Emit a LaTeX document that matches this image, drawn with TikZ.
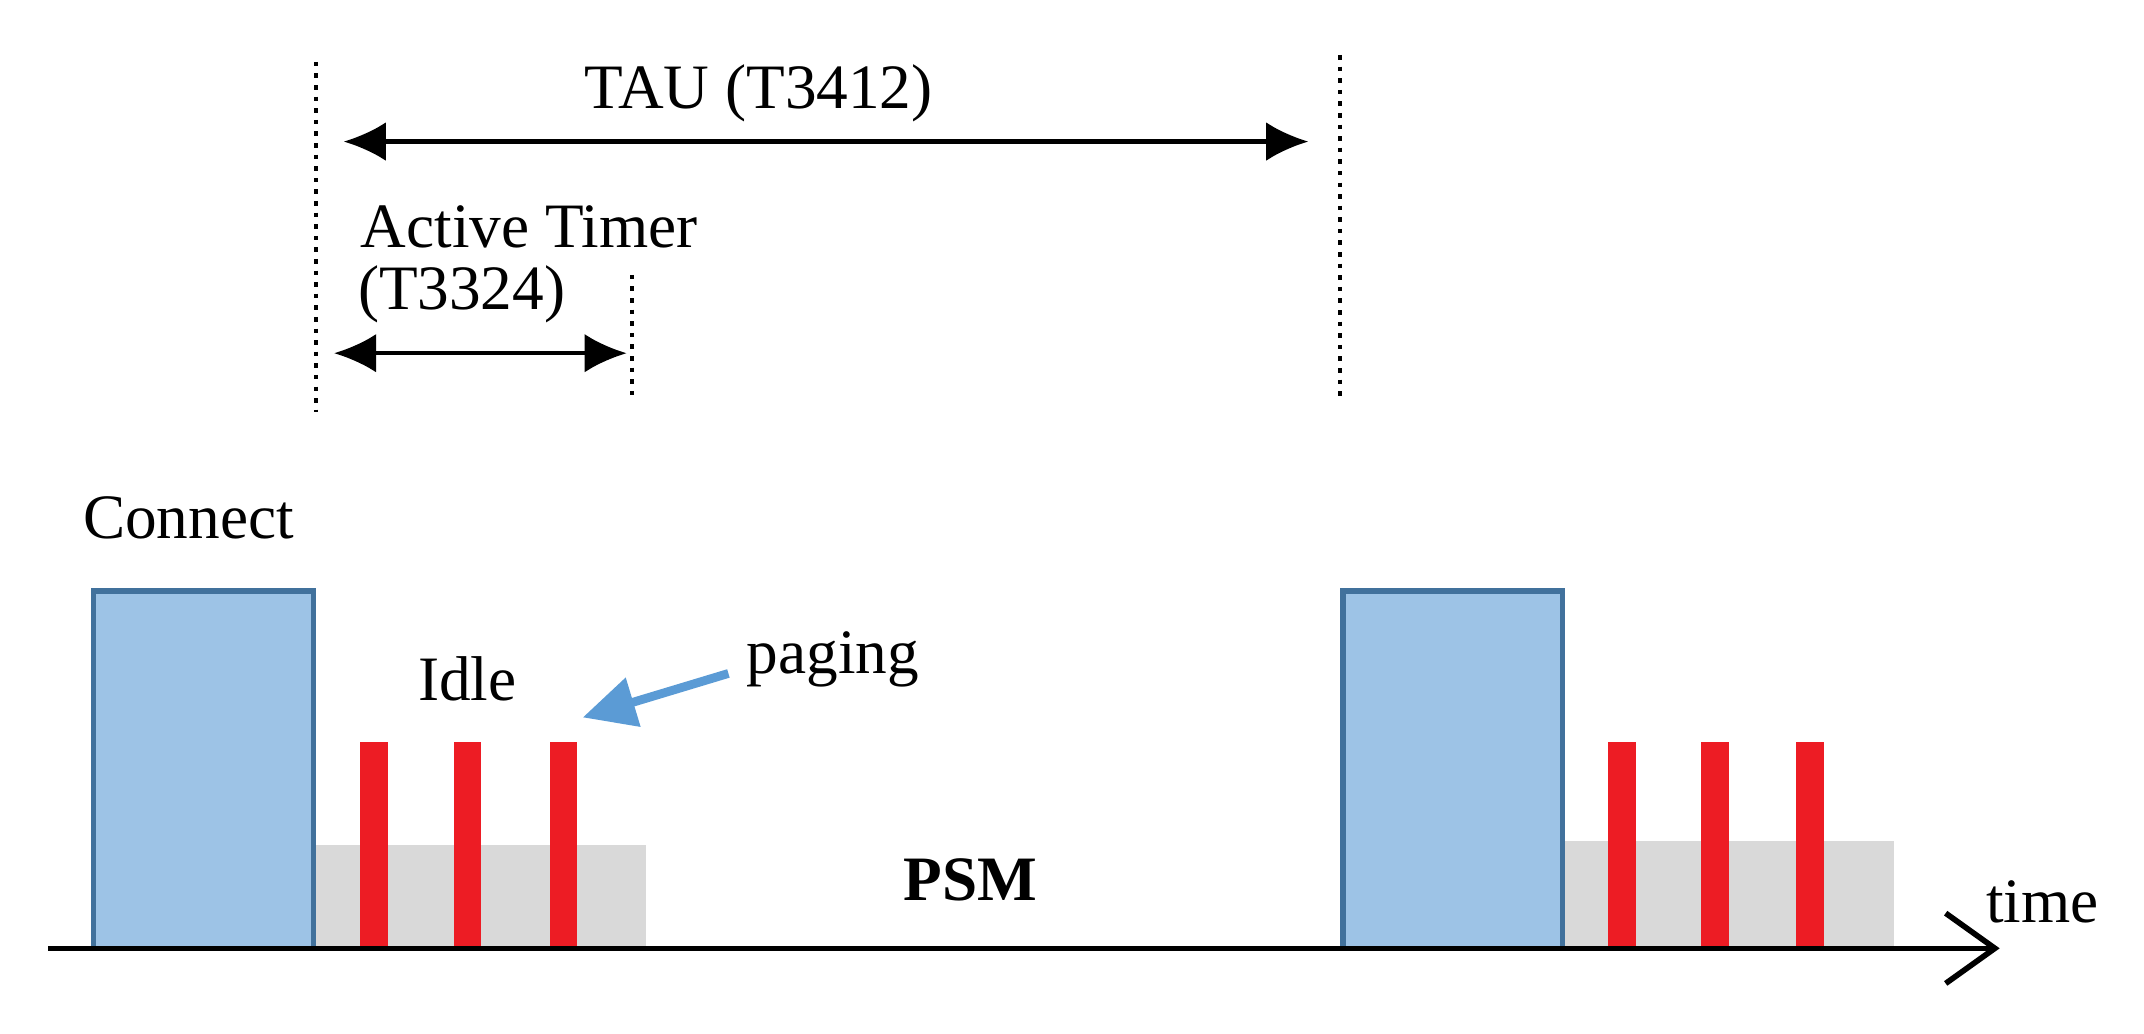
\documentclass[tikz,border=0pt]{standalone}
\usepackage{fontspec}
\setmainfont{Liberation Serif}
\usetikzlibrary{arrows.meta}
\definecolor{boxblue}{RGB}{157,195,230}
\definecolor{edgeblue}{RGB}{65,113,156}
\definecolor{idlegray}{RGB}{217,217,217}
\definecolor{pagered}{RGB}{237,28,36}
\definecolor{arrowblue}{RGB}{91,155,213}
\tikzset{
  x=0.013744cm, y=-0.013744cm,
  lbl/.style={font=\fontsize{18}{21}\selectfont, inner sep=0pt},
  conn/.style={fill=boxblue, draw=edgeblue, line width=1.6pt},
  vline/.style={dotted, line width=1.3pt},
  dim/.style={line width=1.2pt, {Latex[length=12pt,width=11pt]}-{Latex[length=12pt,width=11pt]}}
}
\begin{document}
\begin{tikzpicture}
\useasboundingbox (0,0) rectangle (1560,752.3);
% dotted lines
\coordinate (d1t) at (230,45); \coordinate (d1b) at (230,300);
\coordinate (d2t) at (975,40); \coordinate (d2b) at (975,290);
\coordinate (d3t) at (460,200); \coordinate (d3b) at (460,290);
\draw[vline] (d1t) -- (d1b);
\draw[vline] (d2t) -- (d2b);
\draw[vline] (d3t) -- (d3b);
% dimension arrows
\coordinate (tauL) at (250,103); \coordinate (tauR) at (952,103);
\draw[dim] (tauL) -- (tauR);
\node[lbl] (tau) at (552,68) {TAU (T3412)};
\coordinate (atL) at (243,257); \coordinate (atR) at (456,257);
\draw[dim] (atL) -- (atR);
\node[lbl, anchor=west] (at1) at (262,165) {Active Timer};
\node[lbl, anchor=west] (at2) at (260,214) {(T3324)};
% boxes
\node[lbl, anchor=west] (connect) at (60,377) {Connect};
\fill[idlegray] (230,615) rectangle (470,690);
\fill[idlegray] (1137,612) rectangle (1378,690);
\draw[conn] (68,430) rectangle (228,690);
\draw[conn] (977,430) rectangle (1137,690);
\foreach \x in {262,330,400,1170,1238,1307}
  \fill[pagered] (\x,540) rectangle (\x+20,690);
\node[lbl] (idlelbl) at (340,494) {Idle};
\node[lbl] (paging) at (606,480) {paging};
\coordinate (pgS) at (530,490); \coordinate (pgE) at (424,522);
\draw[arrowblue, line width=2.5pt, -{Triangle[length=15pt,width=14pt]}] (pgS) -- (pgE);
\node[lbl, font=\fontsize{18}{21}\selectfont\bfseries] (psm) at (706,640) {PSM};
\node[lbl] (time) at (1486,656) {time};
% axis
\coordinate (ax0) at (35,690); \coordinate (ax1) at (1455,690);
\draw[line width=1.6pt, -{Straight Barb[length=14pt,width=20pt]}] (ax0) -- (ax1);
\end{tikzpicture}
\end{document}
